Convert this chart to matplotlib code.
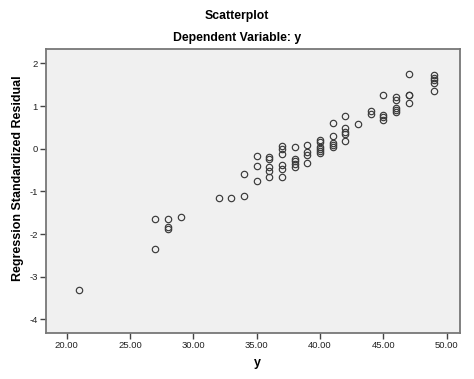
import matplotlib
matplotlib.use("Agg")
import matplotlib.pyplot as plt

plt.rcParams['font.family'] = ['Liberation Sans', 'DejaVu Sans']

# dependent variable y and its standardized residual
y_obs = [21,
         27, 27, 28, 28, 28, 29,
         32, 33, 34, 34,
         35, 35, 35,
         36, 36, 36, 36, 36,
         37, 37, 37, 37, 37, 37,
         38, 38, 38, 38, 38,
         39, 39, 39, 39,
         40, 40, 40, 40, 40, 40,
         41, 41, 41, 41, 41,
         42, 42, 42, 42, 42,
         43, 44, 44,
         45, 45, 45, 45,
         46, 46, 46, 46, 46,
         47, 47, 47, 47,
         49, 49, 49, 49, 49]
resid = [-3.30,
         -1.64, -2.35, -1.65, -1.83, -1.89, -1.60,
         -1.15, -1.16, -1.11, -0.58,
         -0.17, -0.41, -0.76,
         -0.19, -0.24, -0.42, -0.52, -0.65,
         0.07, 0.00, -0.12, -0.38, -0.48, -0.65,
         0.05, -0.24, -0.29, -0.35, -0.42,
         0.09, -0.08, -0.14, -0.33,
         0.21, 0.16, 0.05, 0.00, -0.06, -0.11,
         0.61, 0.31, 0.14, 0.09, 0.04,
         0.77, 0.48, 0.40, 0.34, 0.18,
         0.58, 0.88, 0.82,
         1.27, 0.80, 0.74, 0.68,
         1.21, 1.15, 0.96, 0.90, 0.85,
         1.74, 1.27, 1.25, 1.08,
         1.72, 1.66, 1.60, 1.53, 1.36]

x_ticks = [20, 25, 30, 35, 40, 45, 50]
y_ticks = [-4, -3, -2, -1, 0, 1, 2]

fig = plt.figure(figsize=(4.74, 3.79), dpi=100)
ax = fig.add_axes([0.097, 0.121, 0.873, 0.750])
ax.set_facecolor("#f0f0f0")

ax.plot(y_obs, resid, linestyle="none", marker="o", markersize=4.6,
        markerfacecolor="none", markeredgecolor="#3a3a3a", markeredgewidth=0.85)

ax.set_xlim(18.37, 51.03)
ax.set_ylim(-4.32, 2.34)
ax.set_xticks(x_ticks)
ax.set_xticklabels([f"{t:.2f}" for t in x_ticks])
ax.set_yticks(y_ticks)
ax.set_yticklabels([str(t) for t in y_ticks])
ax.tick_params(direction="out", length=4, width=1, color="#444444",
               labelsize=6.8, labelcolor="#222222", pad=2)

for s in ax.spines.values():
    s.set_color("#777777")
    s.set_linewidth(1.3)

fig.text(0.5, 1 - 16 / 379, "Scatterplot", ha="center", va="center",
         fontsize=8.8, fontweight="bold")
fig.text(0.5, 1 - 38 / 379, "Dependent Variable: y", ha="center", va="center",
         fontsize=8.8, fontweight="bold")
fig.text(18 / 474, 1 - 178 / 379, "Regression Standardized Residual",
         rotation=90, ha="center", va="center", fontsize=9, fontweight="bold")
fig.text(257 / 474, 1 - 363 / 379, "y", ha="center", va="center",
         fontsize=9, fontweight="bold")

fig.savefig("out.png", dpi=100)
